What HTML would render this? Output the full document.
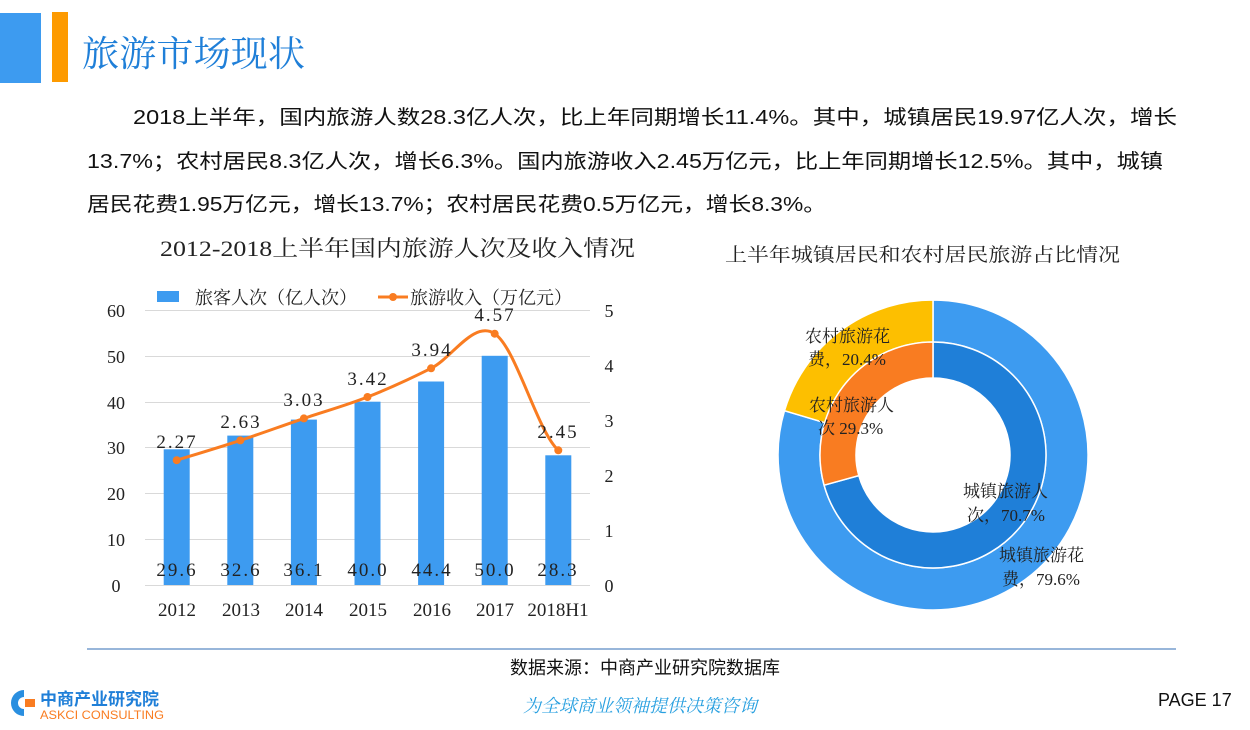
<!DOCTYPE html>
<html><head><meta charset="utf-8">
<style>
html,body{margin:0;padding:0;background:#fff;}
svg{display:block;}
</style></head>
<body>
<svg width="1250" height="730" viewBox="0 0 1250 730" xmlns="http://www.w3.org/2000/svg" font-family="'Liberation Sans','Noto Sans CJK SC',sans-serif">
<rect x="0" y="13" width="41" height="70" fill="#3d9bf0"/>
<rect x="52" y="12" width="16" height="70" fill="#fd9a00"/>
<text x="82" y="66" font-size="36" fill="#1f7fd8" font-family="'Liberation Serif','Noto Serif CJK SC',serif" textLength="223" lengthAdjust="spacingAndGlyphs">旅游市场现状</text>

<g font-size="20" fill="#111">
<text x="133" y="124" textLength="1044" lengthAdjust="spacingAndGlyphs">2018上半年，国内旅游人数28.3亿人次，比上年同期增长11.4%。其中，城镇居民19.97亿人次，增长</text>
<text x="87" y="168" textLength="1076" lengthAdjust="spacingAndGlyphs">13.7%；农村居民8.3亿人次，增长6.3%。国内旅游收入2.45万亿元，比上年同期增长12.5%。其中，城镇</text>
<text x="87" y="211" textLength="739" lengthAdjust="spacingAndGlyphs">居民花费1.95万亿元，增长13.7%；农村居民花费0.5万亿元，增长8.3%。</text>
</g>

<text x="160" y="256" font-size="22" fill="#222" font-family="'Liberation Serif','Noto Serif CJK SC',serif" textLength="475" lengthAdjust="spacingAndGlyphs">2012-2018上半年国内旅游人次及收入情况</text>
<text x="725" y="261" font-size="19" fill="#222" font-family="'Liberation Serif','Noto Serif CJK SC',serif" textLength="395" lengthAdjust="spacingAndGlyphs">上半年城镇居民和农村居民旅游占比情况</text>

<rect x="157" y="291" width="22" height="11" fill="#3d9bf0"/>
<text x="195" y="304" font-size="18" fill="#222" font-family="'Liberation Serif','Noto Serif CJK SC',serif">旅客人次（亿人次）</text>
<line x1="378" y1="297" x2="408" y2="297" stroke="#f97c21" stroke-width="3"/>
<circle cx="393" cy="297" r="4" fill="#f97c21"/>
<text x="410" y="304" font-size="18" fill="#222" font-family="'Liberation Serif','Noto Serif CJK SC',serif">旅游收入（万亿元）</text>

<g stroke="#d9d9d9" stroke-width="1">
<line x1="145" y1="310.5" x2="590" y2="310.5"/>
<line x1="145" y1="356.5" x2="590" y2="356.5"/>
<line x1="145" y1="402.5" x2="590" y2="402.5"/>
<line x1="145" y1="447.5" x2="590" y2="447.5"/>
<line x1="145" y1="493.5" x2="590" y2="493.5"/>
<line x1="145" y1="539.5" x2="590" y2="539.5"/>
<line x1="145" y1="585.5" x2="590" y2="585.5"/>
</g>
<g font-size="18" fill="#222" font-family="'Liberation Serif',serif" text-anchor="middle">
<text x="116" y="317">60</text><text x="116" y="363">50</text><text x="116" y="409">40</text>
<text x="116" y="454">30</text><text x="116" y="500">20</text><text x="116" y="546">10</text><text x="116" y="592">0</text>
<text x="609" y="317">5</text><text x="609" y="372">4</text><text x="609" y="427">3</text>
<text x="609" y="482">2</text><text x="609" y="537">1</text><text x="609" y="592">0</text>
</g>

<g fill="#3d9bf0">
<rect x="163.7" y="449.3" width="26" height="135.7"/>
<rect x="227.3" y="435.6" width="26" height="149.4"/>
<rect x="290.9" y="419.6" width="26" height="165.4"/>
<rect x="354.5" y="401.7" width="26" height="183.3"/>
<rect x="418.1" y="381.5" width="26" height="203.5"/>
<rect x="481.7" y="355.8" width="26" height="229.2"/>
<rect x="545.3" y="455.3" width="26" height="129.7"/>
</g>

<path d="M176.7,460.2 C187.3,456.9 219.1,447.4 240.3,440.4 C261.5,433.4 282.7,425.6 303.9,418.4 C325.1,411.2 346.3,405.4 367.5,397 C388.7,388.7 409.9,378.9 431.1,368.3 C452.3,357.8 473.5,320 494.7,333.7 C515.9,347.4 537.1,430.9 558.3,450.3" fill="none" stroke="#f97c21" stroke-width="3"/>
<g fill="#f97c21">
<circle cx="176.7" cy="460.2" r="4"/><circle cx="240.3" cy="440.4" r="4"/><circle cx="303.9" cy="418.4" r="4"/>
<circle cx="367.5" cy="397" r="4"/><circle cx="431.1" cy="368.3" r="4"/><circle cx="494.7" cy="333.7" r="4"/><circle cx="558.3" cy="450.3" r="4"/>
</g>
<g font-size="19" fill="#222" font-family="'Liberation Serif',serif" text-anchor="middle" letter-spacing="2">
<text x="177" y="448">2.27</text><text x="241" y="428">2.63</text><text x="304" y="406">3.03</text>
<text x="368" y="385">3.42</text><text x="432" y="356">3.94</text><text x="495" y="321">4.57</text><text x="558" y="438">2.45</text>
<text x="177" y="576">29.6</text><text x="241" y="576">32.6</text><text x="304" y="576">36.1</text>
<text x="368" y="576">40.0</text><text x="432" y="576">44.4</text><text x="495" y="576">50.0</text><text x="558" y="576">28.3</text>
</g>
<g font-size="19" fill="#222" font-family="'Liberation Serif',serif" text-anchor="middle">
<text x="177" y="616">2012</text><text x="241" y="616">2013</text><text x="304" y="616">2014</text>
<text x="368" y="616">2015</text><text x="432" y="616">2016</text><text x="495" y="616">2017</text><text x="558" y="616">2018H1</text>
</g>

<g stroke="#fff" stroke-width="1.5">
<path d="M933,300 A155,155 0 1 1 784.5,410.7 L824.7,422.7 A113,113 0 1 0 933,342 Z" fill="#3d9bf0"/>
<path d="M933,300 A155,155 0 0 0 784.5,410.7 L824.7,422.7 A113,113 0 0 1 933,342 Z" fill="#fdbf00"/>
<path d="M933,342 A113,113 0 1 1 824.1,485.2 L858.8,475.6 A77,77 0 1 0 933,378 Z" fill="#1f7fd8"/>
<path d="M933,342 A113,113 0 0 0 824.1,485.2 L858.8,475.6 A77,77 0 0 1 933,378 Z" fill="#f97c21"/>
</g>
<g font-size="17" fill="#222" font-family="'Liberation Serif','Noto Serif CJK SC',serif">
<text x="805" y="342">农村旅游花</text><text x="808" y="365">费，20.4%</text>
<text x="809" y="411">农村旅游人</text><text x="818" y="434">次 29.3%</text>
<text x="963" y="497">城镇旅游人</text><text x="967" y="521">次，70.7%</text>
<text x="999" y="561">城镇旅游花</text><text x="1002" y="585">费，79.6%</text>
</g>

<line x1="87" y1="649" x2="1176" y2="649" stroke="#5b8ac4" stroke-width="1.2"/>
<text x="645" y="674" font-size="18" fill="#111" text-anchor="middle">数据来源：中商产业研究院数据库</text>
<text x="640" y="712" font-size="18" fill="#29a0e0" text-anchor="middle" font-style="italic" font-family="'Liberation Serif','Noto Serif CJK SC',serif">为全球商业领袖提供决策咨询</text>
<text x="1158" y="706" font-size="18" fill="#111">PAGE 17</text>
<path d="M24,690 A13,13 0 1 0 24,716 L24,709 A6,6 0 1 1 24,697 Z" fill="#2a8fe0"/>
<rect x="25" y="699" width="10" height="8" fill="#f97c21"/>
<text x="40" y="705" font-size="17" font-weight="bold" fill="#1f7fd8">中商产业研究院</text>
<text x="40" y="719" font-size="12" fill="#f97c21" textLength="124" lengthAdjust="spacingAndGlyphs">ASKCI CONSULTING</text>
</svg>
</body></html>
